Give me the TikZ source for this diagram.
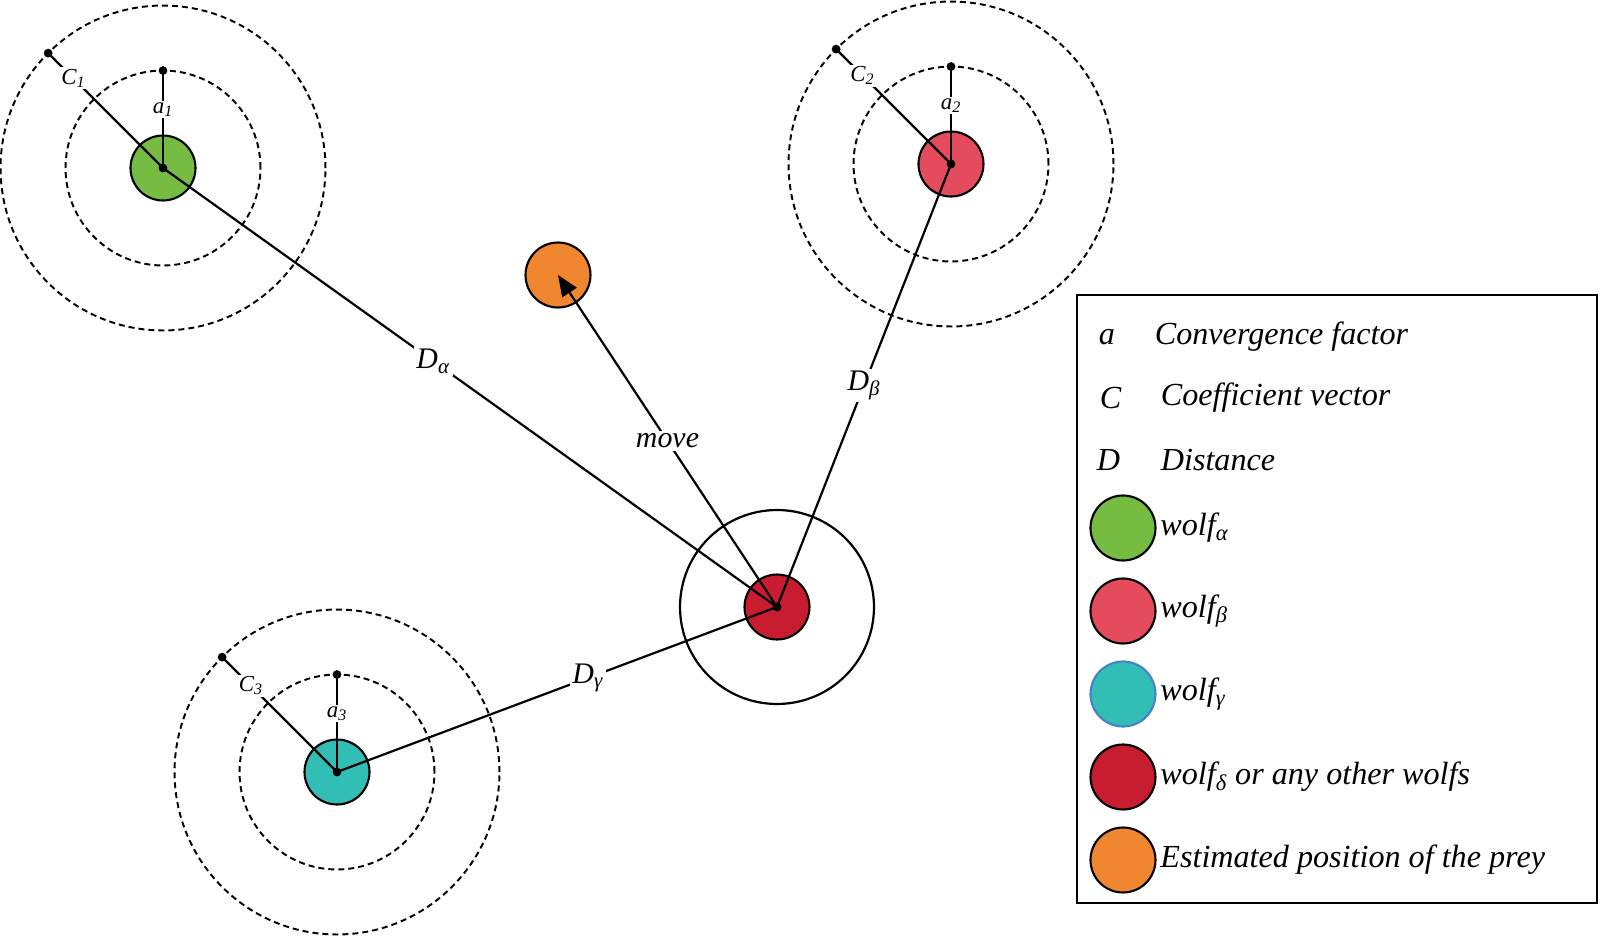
\documentclass[tikz,border=0pt]{standalone}
\usepackage{fontspec}
\setmainfont{Liberation Serif}
\usepackage{xcolor}
\usetikzlibrary{arrows.meta, positioning, calc}

\definecolor{alphagreen}{RGB}{118,188,66}
\definecolor{betared}{RGB}{228,76,94}
\definecolor{gammateal}{RGB}{50,190,180}
\definecolor{deltared}{RGB}{200,28,48}
\definecolor{preyorange}{RGB}{240,135,48}
\definecolor{tealedge}{RGB}{70,130,200}

\begin{document}
\begin{tikzpicture}[
    x=0.02cm, y=-0.02cm,
    wolf/.style={circle, draw, line width=1.2pt, minimum size=1.3cm, inner sep=0pt},
    ring/.style={dash pattern=on 3.4pt off 2.3pt, line width=1.1pt},
    link/.style={line width=1.25pt},
    arrow/.style={-{Triangle[length=0.42cm, width=0.34cm]}, line width=1.25pt},
    dlabel/.style={fill=white, inner sep=1.5pt, font=\fontsize{17}{19}\selectfont\itshape},
    tlabel/.style={fill=white, inner sep=1pt, font=\fontsize{13}{15}\selectfont\itshape},
    legtext/.style={anchor=west, inner sep=2pt, font=\fontsize{18.3}{22}\selectfont\itshape}
]
    \useasboundingbox (0,0) rectangle (1600,937);

    % wolves and prey
    \node[wolf, fill=alphagreen] (alpha) at (163,168) {};
    \node[wolf, fill=betared] (beta) at (951,164) {};
    \node[wolf, fill=gammateal] (gamma) at (337,772) {};
    \node[wolf, fill=deltared] (delta) at (777,607) {};
    \node[wolf, fill=preyorange] (prey) at (558,275) {};

    % search circles
    \foreach \w in {alpha, beta, gamma} {
        \draw[ring] (\w) circle[radius=1.95cm];
        \draw[ring] (\w) circle[radius=3.25cm];
        \coordinate (\w a) at ($(\w)+(90:1.95cm)$);
        \coordinate (\w c) at ($(\w)+(135:3.25cm)$);
        \fill (\w a) circle[radius=2.5pt];
        \fill (\w c) circle[radius=2.5pt];
    }
    \draw[link] (delta) circle[radius=1.94cm];

    % a and C
    \draw[link] (alpha.center) -- node[tlabel, pos=0.6] {a\textsubscript{1}} (alphaa);
    \draw[link] (alpha.center) -- node[tlabel, pos=0.78] {C\textsubscript{1}} (alphac);
    \draw[link] (beta.center) -- node[tlabel, pos=0.6] {a\textsubscript{2}} (betaa);
    \draw[link] (beta.center) -- node[tlabel, pos=0.77] {C\textsubscript{2}} (betac);
    \draw[link] (gamma.center) -- node[tlabel, pos=0.6] {a\textsubscript{3}} (gammaa);
    \draw[link] (gamma.center) -- node[tlabel, pos=0.75] {C\textsubscript{3}} (gammac);

    % distances
    \draw[link] (alpha.center) -- node[dlabel, pos=0.44] {D\textsubscript{α}} (delta.center);
    \draw[link] (beta.center) -- node[dlabel, pos=0.5] {D\textsubscript{β}} (delta.center);
    \draw[link] (gamma.center) -- node[dlabel, pos=0.57] {D\textsubscript{γ}} (delta.center);
    \draw[arrow] (delta.center) -- node[dlabel, pos=0.5] {move} (prey.center);

    \foreach \w in {alpha, beta, gamma, delta}
        \fill (\w) circle[radius=2.5pt];

    % legend
    \draw[line width=1.4pt] (1077,295) rectangle (1597,903);
    \node[legtext] (keya) at (1095,337) {a};
    \node[legtext] (texta) at (1151,337) {Convergence factor};
    \node[legtext] (keyc) at (1096,398) {C};
    \node[legtext] (textc) at (1157,398) {Coefficient vector};
    \node[legtext] (keyd) at (1093,460) {D};
    \node[legtext] (textd) at (1157,460) {Distance};

    \node[wolf, fill=alphagreen] (keyalpha) at (1123,528) {};
    \node[legtext, right=0pt of keyalpha] (textalpha) {wolf\textsubscript{α}};
    \node[wolf, fill=betared] (keybeta) at (1123,611) {};
    \node[legtext, right=0pt of keybeta] (textbeta) {wolf\textsubscript{β}};
    \node[wolf, fill=gammateal, draw=tealedge] (keygamma) at (1123,694) {};
    \node[legtext, right=0pt of keygamma] (textgamma) {wolf\textsubscript{γ}};
    \node[wolf, fill=deltared] (keydelta) at (1123,777) {};
    \node[legtext, right=0pt of keydelta] (textdelta) {wolf\textsubscript{δ} or any other wolfs};
    \node[wolf, fill=preyorange] (keyprey) at (1123,860) {};
    \node[legtext, right=0pt of keyprey] (textprey) {Estimated position of the prey};
\end{tikzpicture}
\end{document}
